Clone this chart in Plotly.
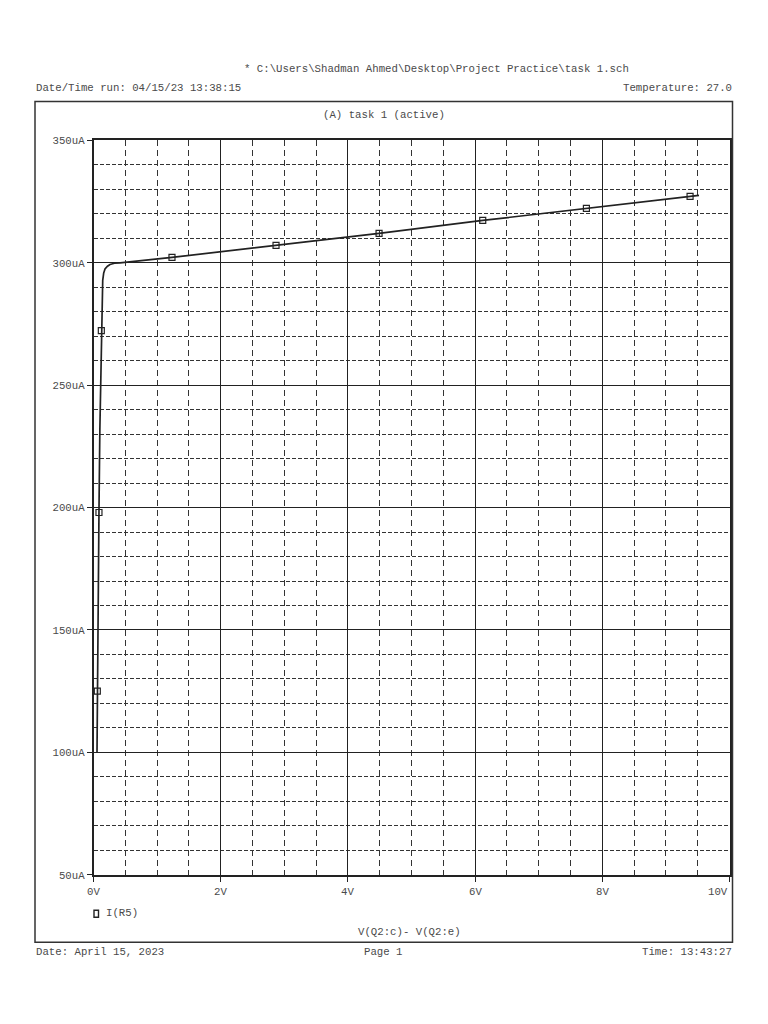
import plotly.graph_objects as go

# I(R5) against V(Q2:c) - V(Q2:e), volts / microamps
vce = [0.055, 0.06, 0.072, 0.086, 0.1, 0.118, 0.123, 0.133, 0.145, 0.16, 0.181,
       0.22, 0.259, 0.33, 0.417, 1.234, 2.87, 4.49, 6.12, 7.75, 9.38, 9.52]
i_r5 = [100, 125, 165, 198, 232, 260, 272.3, 284, 292.8, 295.8, 297.5,
        298.6, 299.3, 299.8, 300.0, 302.2, 307.1, 312.0, 317.3, 322.2, 327.1, 327.5]

# trace symbols placed along the curve
marker_v = [0.06, 0.086, 0.123, 1.234, 2.87, 4.49, 6.12, 7.75, 9.38]
marker_i = [125, 198, 272.3, 302.2, 307.1, 312.0, 317.3, 322.2, 327.1]

x_ticks = [0, 2, 4, 6, 8, 10]
x_tick_labels = ["0V", "2V", "4V", "6V", "8V", "10V"]
y_ticks = [50, 100, 150, 200, 250, 300, 350]
y_tick_labels = ["50uA", "100uA", "150uA", "200uA", "250uA", "300uA", "350uA"]

W, H = 768, 1024
FONT = "Liberation Mono"
FS = 10.7
TXT = "#4a4a4a"
INK = "#222222"


def px(x):
    return x / W


def py(y):
    # page row (from the top) -> paper fraction
    return 1 - ((y - 4.6) / 0.9884) / H


fig = go.Figure()
fig.add_trace(go.Scatter(
    x=vce, y=i_r5, mode="lines",
    line=dict(color=INK, width=1.7),
    showlegend=False, hoverinfo="skip",
))
fig.add_trace(go.Scatter(
    x=marker_v, y=marker_i, mode="markers",
    marker=dict(symbol="square-open", size=6, color=INK, line=dict(width=1.2, color=INK)),
    showlegend=False, hoverinfo="skip",
))

fig.update_layout(
    width=W, height=H,
    margin=dict(l=0, r=0, t=0, b=0),
    paper_bgcolor="white", plot_bgcolor="white",
    font=dict(family=FONT, size=FS, color=TXT),
    showlegend=False,
    xaxis=dict(
        domain=[px(93.5), px(729.5)], range=[0, 10],
        tickvals=x_ticks, showticklabels=False,
        ticks="outside", ticklen=5, tickwidth=1.2, tickcolor=INK,
        showgrid=True, gridcolor=INK, gridwidth=1.3,
        showline=True, linecolor=INK, linewidth=1.5, mirror=True,
        zeroline=False,
        minor=dict(dtick=0.5, showgrid=True, gridcolor="#333333", gridwidth=1,
                   griddash="6px,4px", ticks=""),
    ),
    yaxis=dict(
        domain=[py(874.5), py(140)], range=[50, 350],
        tickvals=y_ticks, ticktext=y_tick_labels,
        ticks="outside", ticklen=5, tickwidth=1.2, tickcolor=INK,
        tickfont=dict(family=FONT, size=FS, color=TXT),
        showgrid=True, gridcolor=INK, gridwidth=1.3,
        showline=True, linecolor=INK, linewidth=1.5, mirror=True,
        zeroline=False,
        minor=dict(dtick=10, showgrid=True, gridcolor="#333333", gridwidth=1,
                   griddash="4px,2px", ticks=""),
    ),
)

# outer page frame
fig.add_shape(type="rect", xref="paper", yref="paper",
              x0=px(35), x1=px(732.5), y0=py(942), y1=py(101),
              line=dict(color="#333333", width=1.5), layer="above")

# x tick labels
for v, lab in zip(x_ticks, x_tick_labels):
    fig.add_annotation(x=v, xref="x", y=py(892), yref="paper", text=lab,
                       showarrow=False, xanchor="right" if v == x_ticks[-1] else "center",
                       yanchor="middle", font=dict(family=FONT, size=FS, color=TXT))


def label(text, x, y, anchor="left"):
    fig.add_annotation(x=px(x), y=py(y), xref="paper", yref="paper", text=text,
                       showarrow=False, xanchor=anchor, yanchor="middle",
                       font=dict(family=FONT, size=FS, color=TXT))


label("* C:\\Users\\Shadman Ahmed\\Desktop\\Project Practice\\task 1.sch", 436, 69, "center")
label("Date/Time run: 04/15/23 13:38:15", 34, 88, "left")
label("Temperature: 27.0", 734, 88, "right")
label("(A) task 1 (active)", 384, 115, "center")
label("I(R5)", 104, 913, "left")
label("V(Q2:c)- V(Q2:e)", 409, 932, "center")
label("Date: April 15, 2023", 34, 952, "left")
label("Page 1", 383, 952, "center")
label("Time: 13:43:27", 734, 952, "right")

# legend symbol for I(R5)
fig.add_shape(type="rect", xref="paper", yref="paper",
              x0=px(94), x1=px(98.5), y0=py(917), y1=py(910),
              line=dict(color=INK, width=1.4))

fig.write_html("out.html")
